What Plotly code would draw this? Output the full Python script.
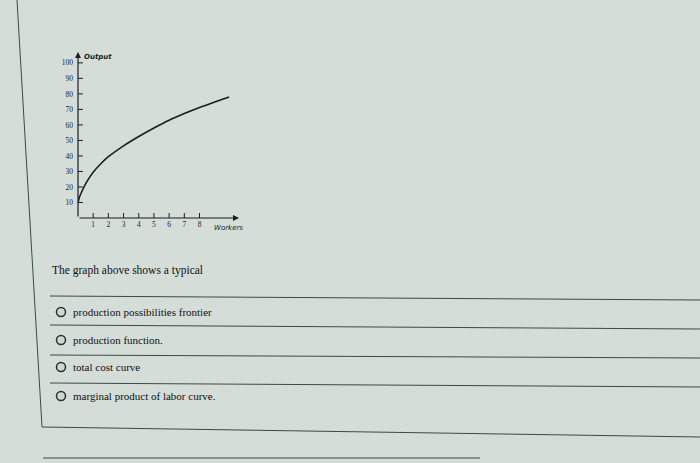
import plotly.graph_objects as go

# curve
workers = [0, 0.1, 0.25, 0.5, 0.75, 1, 1.5, 2, 3, 4, 5, 6, 7, 8, 9, 9.95]
output = [10, 13.5, 17, 22, 26, 29.5, 35, 39.5, 46.5, 52.5, 58, 63, 67.3, 71.2, 74.7, 78]

x_ticks = [1, 2, 3, 4, 5, 6, 7, 8]
y_ticks = [10, 20, 30, 40, 50, 60, 70, 80, 90, 100]

question = "The graph above shows a typical"
options = [
    "production possibilities frontier",
    "production function.",
    "total cost curve",
    "marginal product of labor curve.",
]

W, H = 700, 463
BG = "#d5ddd9"
INK = "#1a1e1e"
SERIF = "Liberation Serif, DejaVu Serif, serif"


def px(x, y):
    # pixel -> paper coords
    return x / W, 1 - y / H


fig = go.Figure()

fig.add_trace(go.Scatter(x=workers, y=output, mode="lines",
                         line=dict(color=INK, width=1.6, shape="spline", smoothing=1.0),
                         hoverinfo="skip"))
# little crosses on the axes
fig.add_trace(go.Scatter(x=[0] * len(y_ticks), y=y_ticks, mode="markers",
                         marker=dict(symbol="line-ew", size=7,
                                     line=dict(color=INK, width=1)),
                         hoverinfo="skip"))
fig.add_trace(go.Scatter(x=x_ticks, y=[0] * len(x_ticks), mode="markers",
                         marker=dict(symbol="line-ns", size=7,
                                     line=dict(color=INK, width=1)),
                         hoverinfo="skip"))

x0, y0 = px(78, 218)
x1, y1 = px(239, 52)

fig.update_layout(
    width=W, height=H,
    margin=dict(l=0, r=0, t=0, b=0),
    paper_bgcolor=BG, plot_bgcolor="rgba(0,0,0,0)",
    showlegend=False,
    xaxis=dict(domain=[x0, x1], range=[0, 10.6], showgrid=False, zeroline=False,
               tickmode="array", tickvals=x_ticks, ticks="",
               tickfont=dict(family=SERIF, size=7.5, color=INK)),
    yaxis=dict(domain=[y0, y1], range=[0, 107], showgrid=False, zeroline=False,
               tickmode="array", tickvals=y_ticks, ticks="",
               ticklabelstandoff=4,
               tickfont=dict(family=SERIF, size=7.5, color=INK)),
)

# axis arrows
fig.add_annotation(x=0, y=107, ax=0, ay=0, xref="x", yref="y", axref="x", ayref="y",
                   showarrow=True, arrowhead=2, arrowsize=1, arrowwidth=1.2,
                   arrowcolor=INK, text="")
fig.add_annotation(x=10.6, y=0, ax=0, ay=0, xref="x", yref="y", axref="x", ayref="y",
                   showarrow=True, arrowhead=2, arrowsize=1, arrowwidth=1.2,
                   arrowcolor=INK, text="")
fig.add_annotation(x=px(82, 57)[0], y=px(82, 57)[1], xref="paper", yref="paper",
                   xanchor="left", yanchor="middle", showarrow=False,
                   text="<i><b>Output</b></i>",
                   font=dict(family="DejaVu Sans", size=7, color=INK))
fig.add_annotation(x=px(212, 228)[0], y=px(212, 228)[1], xref="paper", yref="paper",
                   xanchor="left", yanchor="middle", showarrow=False,
                   text="<i>Workers</i>",
                   font=dict(family="DejaVu Sans", size=7, color=INK))

# question text
qx, qy = px(50, 270)
fig.add_annotation(x=qx, y=qy, xref="paper", yref="paper", xanchor="left",
                   yanchor="middle", showarrow=False, text=question,
                   font=dict(family=SERIF, size=11.5, color="#0e1010"))

# frame of the question box
lines = [
    ((17, 0), (42, 427)),
    ((42, 427), (700, 437)),
    ((43, 458), (480, 458)),
    ((50, 296), (700, 300)),
    ((50, 325), (700, 329)),
    ((50, 355), (700, 358)),
    ((50, 383), (700, 387)),
]
for (ax_, ay_), (bx, by) in lines:
    a, b = px(ax_, ay_), px(bx, by)
    fig.add_shape(type="line", xref="paper", yref="paper",
                  x0=a[0], y0=a[1], x1=b[0], y1=b[1],
                  line=dict(color="#3c4a48", width=1))

opt_y = [312, 340, 367, 396]
for label, yy in zip(options, opt_y):
    cx, cy = px(61, yy)
    rx, ry = 4.5 / W, 4.5 / H
    fig.add_shape(type="circle", xref="paper", yref="paper",
                  x0=cx - rx, x1=cx + rx, y0=cy - ry, y1=cy + ry,
                  line=dict(color="#2a3030", width=1.5), fillcolor="#cfd8d4")
    tx, ty = px(71, yy)
    fig.add_annotation(x=tx, y=ty, xref="paper", yref="paper", xanchor="left",
                       yanchor="middle", showarrow=False, text=label,
                       font=dict(family=SERIF, size=11, color="#0e1010"))

# drop the page margin so the figure fills the window
fig.write_html("out.html", config={"displayModeBar": False},
               post_script="document.body.style.margin='0';")
